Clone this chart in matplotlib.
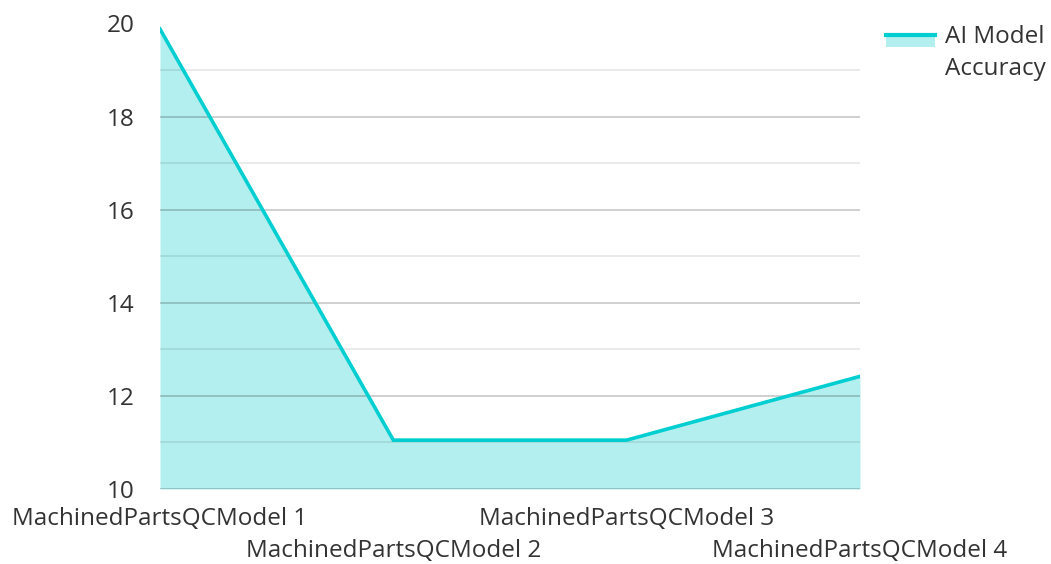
import matplotlib.pyplot as plt
from matplotlib.patches import Rectangle
from matplotlib.lines import Line2D
from matplotlib.transforms import blended_transform_factory

plt.rcParams['font.family'] = ['Open Sans', 'DejaVu Sans']

# Datos
modelos = ['MachinedPartsQCModel 1', 'MachinedPartsQCModel 2',
           'MachinedPartsQCModel 3', 'MachinedPartsQCModel 4']
precision = [19.88, 11.05, 11.05, 12.42]
y_ticks = [10, 12, 14, 16, 18, 20]
serie = 'AI Model\nAccuracy'

color_linea = '#00CED1'
color_area = '#B2EFEE'
color_texto = '#333333'
W, H = 1051, 564

fig = plt.figure(figsize=(W / 100, H / 100), dpi=100)
ax = fig.add_axes([160 / W, 1 - 489 / H, 700 / W, 465.5 / H])

x = list(range(len(modelos)))
ax.fill_between(x, precision, 10, color=color_area, lw=0, zorder=1)
ax.plot(x, precision, color=color_linea, lw=2.6, zorder=3, solid_joinstyle='miter')

# Rejilla semitransparente por encima del área: pares más marcadas
for v in range(10, 21):
    a = 0.2 if v % 2 == 0 else 0.09
    ax.axhline(v, color='black', alpha=a, lw=1.3, zorder=2)

ax.set_xlim(0, len(modelos) - 1)
ax.set_ylim(10, 20)
ax.set_yticks(y_ticks)
ax.set_yticklabels([str(t) for t in y_ticks], fontsize=17.5, color=color_texto)
ax.set_xticks(x)
ax.set_xticklabels([])
ax.tick_params(axis='both', length=0)
ax.tick_params(axis='y', pad=18)
for s in ax.spines.values():
    s.set_visible(False)

# Etiquetas del eje x en dos filas alternas
trans = blended_transform_factory(ax.transData, fig.transFigure)
for i, m in enumerate(modelos):
    fila_y = 519 if i % 2 == 0 else 551
    fig.text(i, 1 - fila_y / H, m, transform=trans, ha='center', va='center',
             fontsize=17.5, color=color_texto)

# Leyenda: línea sobre área, texto a la derecha
fig.add_artist(Rectangle((886 / W, 1 - 47 / H), 49 / W, 13 / H,
                         facecolor=color_area, lw=0, transform=fig.transFigure))
fig.add_artist(Line2D([886 / W, 935 / W], [1 - 34.5 / H, 1 - 34.5 / H],
                      color=color_linea, lw=3, transform=fig.transFigure))
for j, linea in enumerate(serie.split('\n')):
    fig.text(945 / W, 1 - (37 + 32 * j) / H, linea, ha='left', va='center',
             fontsize=17.5, color=color_texto)

fig.savefig('out.png', dpi=100)
